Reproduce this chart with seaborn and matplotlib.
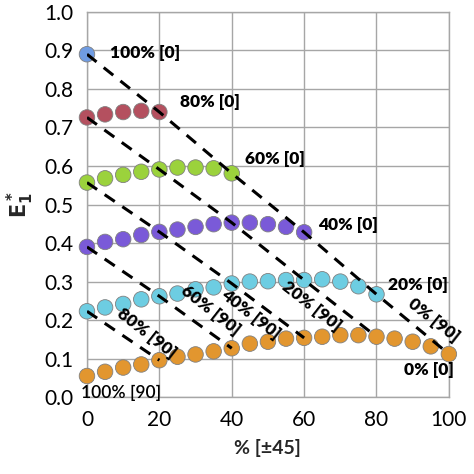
import numpy as np
import pandas as pd
import matplotlib
matplotlib.use('Agg')
import matplotlib.pyplot as plt
import seaborn as sns

# % of [±45] plies (x axis)
pct45 = [0, 5, 10, 15, 20, 25, 30, 35, 40, 45, 50, 55, 60, 65, 70, 75, 80, 85, 90, 95, 100]

# E1* for each % [0] series
e_100 = [0.89]
e_80 = [0.726, 0.734, 0.740, 0.743, 0.740]
e_60 = [0.557, 0.568, 0.577, 0.585, 0.591, 0.596, 0.596, 0.594, 0.581]
e_40 = [0.390, 0.403, 0.410, 0.421, 0.429, 0.435, 0.442, 0.449, 0.453, 0.453, 0.449, 0.442, 0.428]
e_20 = [0.223, 0.233, 0.242, 0.254, 0.262, 0.269, 0.280, 0.285, 0.295, 0.300, 0.301,
        0.304, 0.304, 0.306, 0.300, 0.288, 0.267]
e_0 = [0.055, 0.066, 0.077, 0.085, 0.096, 0.105, 0.111, 0.119, 0.127, 0.139, 0.144,
       0.152, 0.154, 0.157, 0.161, 0.161, 0.157, 0.152, 0.144, 0.132, 0.112]

series_names = ['100% [0]', '80% [0]', '60% [0]', '40% [0]', '20% [0]', '0% [0]']
series_vals = [e_100, e_80, e_60, e_40, e_20, e_0]
colors = ['#6f9ce3', '#b4505f', '#9bd23c', '#7a5ad8', '#6dcde2', '#e2962f']

rows = []
for name, vals in zip(series_names, series_vals):
    for x, v in zip(pct45, vals):
        rows.append({'pct45': x, 'E1': v, 'series': name})
df = pd.DataFrame(rows)

# constant [90] lines run through the series points
lines90 = []
for k, lab in enumerate(['0% [90]', '20% [90]', '40% [90]', '60% [90]', '80% [90]']):
    for j in range(k, len(series_vals)):
        idx = 4 * (j - k)
        lines90.append({'pct45': pct45[idx], 'E1': series_vals[j][idx], 'line': lab})
df90 = pd.DataFrame(lines90)

sns.set_style('whitegrid')
plt.rcParams['font.family'] = ['Lato', 'DejaVu Sans']
plt.rcParams['mathtext.fontset'] = 'dejavusans'

fig = plt.figure(figsize=(4.74, 4.74), dpi=100)
ax = fig.add_axes([0.1835, 0.162, 0.7635, 0.813])

sns.scatterplot(data=df, x='pct45', y='E1', hue='series', palette=colors, s=125,
                edgecolor='#808080', linewidth=0.6, legend=False, ax=ax, zorder=3, clip_on=False)
sns.lineplot(data=df90, x='pct45', y='E1', units='line', estimator=None, color='black',
             linestyle=(0, (4, 3)), linewidth=2.2, legend=False, ax=ax, zorder=4)

ax.set_xlim(0, 100)
ax.set_ylim(0, 1.0)
ax.set_xticks([0, 20, 40, 60, 80, 100])
ax.set_yticks(np.arange(0, 1.01, 0.1))
ax.set_yticklabels(['%.1f' % v for v in np.arange(0, 1.01, 0.1)])
ax.tick_params(labelsize=15, colors='black', pad=6)
ax.grid(True, color='#a6a6a6', linewidth=1)
for sp in ax.spines.values():
    sp.set_color('#a6a6a6')
    sp.set_linewidth(1)

ax.set_xlabel('% [±45]', fontsize=14, fontweight='bold', labelpad=6)
ax.set_ylabel(r'$\mathbf{E_1^*}$', fontsize=15, labelpad=6)

bold = dict(fontsize=12.5, fontweight='heavy', color='black', zorder=5)
ax.text(6.4, 0.893, '100% [0]', ha='left', va='center', **bold)
ax.text(25.7, 0.766, '80% [0]', ha='left', va='center', **bold)
ax.text(43.6, 0.618, '60% [0]', ha='left', va='center', **bold)
ax.text(63.9, 0.447, '40% [0]', ha='left', va='center', **bold)
ax.text(83.2, 0.291, '20% [0]', ha='left', va='center', **bold)
ax.text(87.6, 0.070, '0% [0]', ha='left', va='center', **bold)

rot = dict(ha='center', va='center', rotation=-38, rotation_mode='anchor')
ax.text(95.7, 0.200, '0% [90]', **rot, **bold)
ax.text(62.1, 0.235, '20% [90]', **rot, **bold)
ax.text(45.1, 0.216, '40% [90]', **rot, **bold)
ax.text(34.0, 0.226, '60% [90]', **rot, **bold)
ax.text(16.5, 0.165, '80% [90]', **rot, **bold)
ax.text(-1.6, 0.012, '100% [90]', ha='left', va='center', fontsize=12.5, fontweight='semibold',
        color='black', zorder=5)

fig.savefig('out.png', dpi=100, facecolor='white')
